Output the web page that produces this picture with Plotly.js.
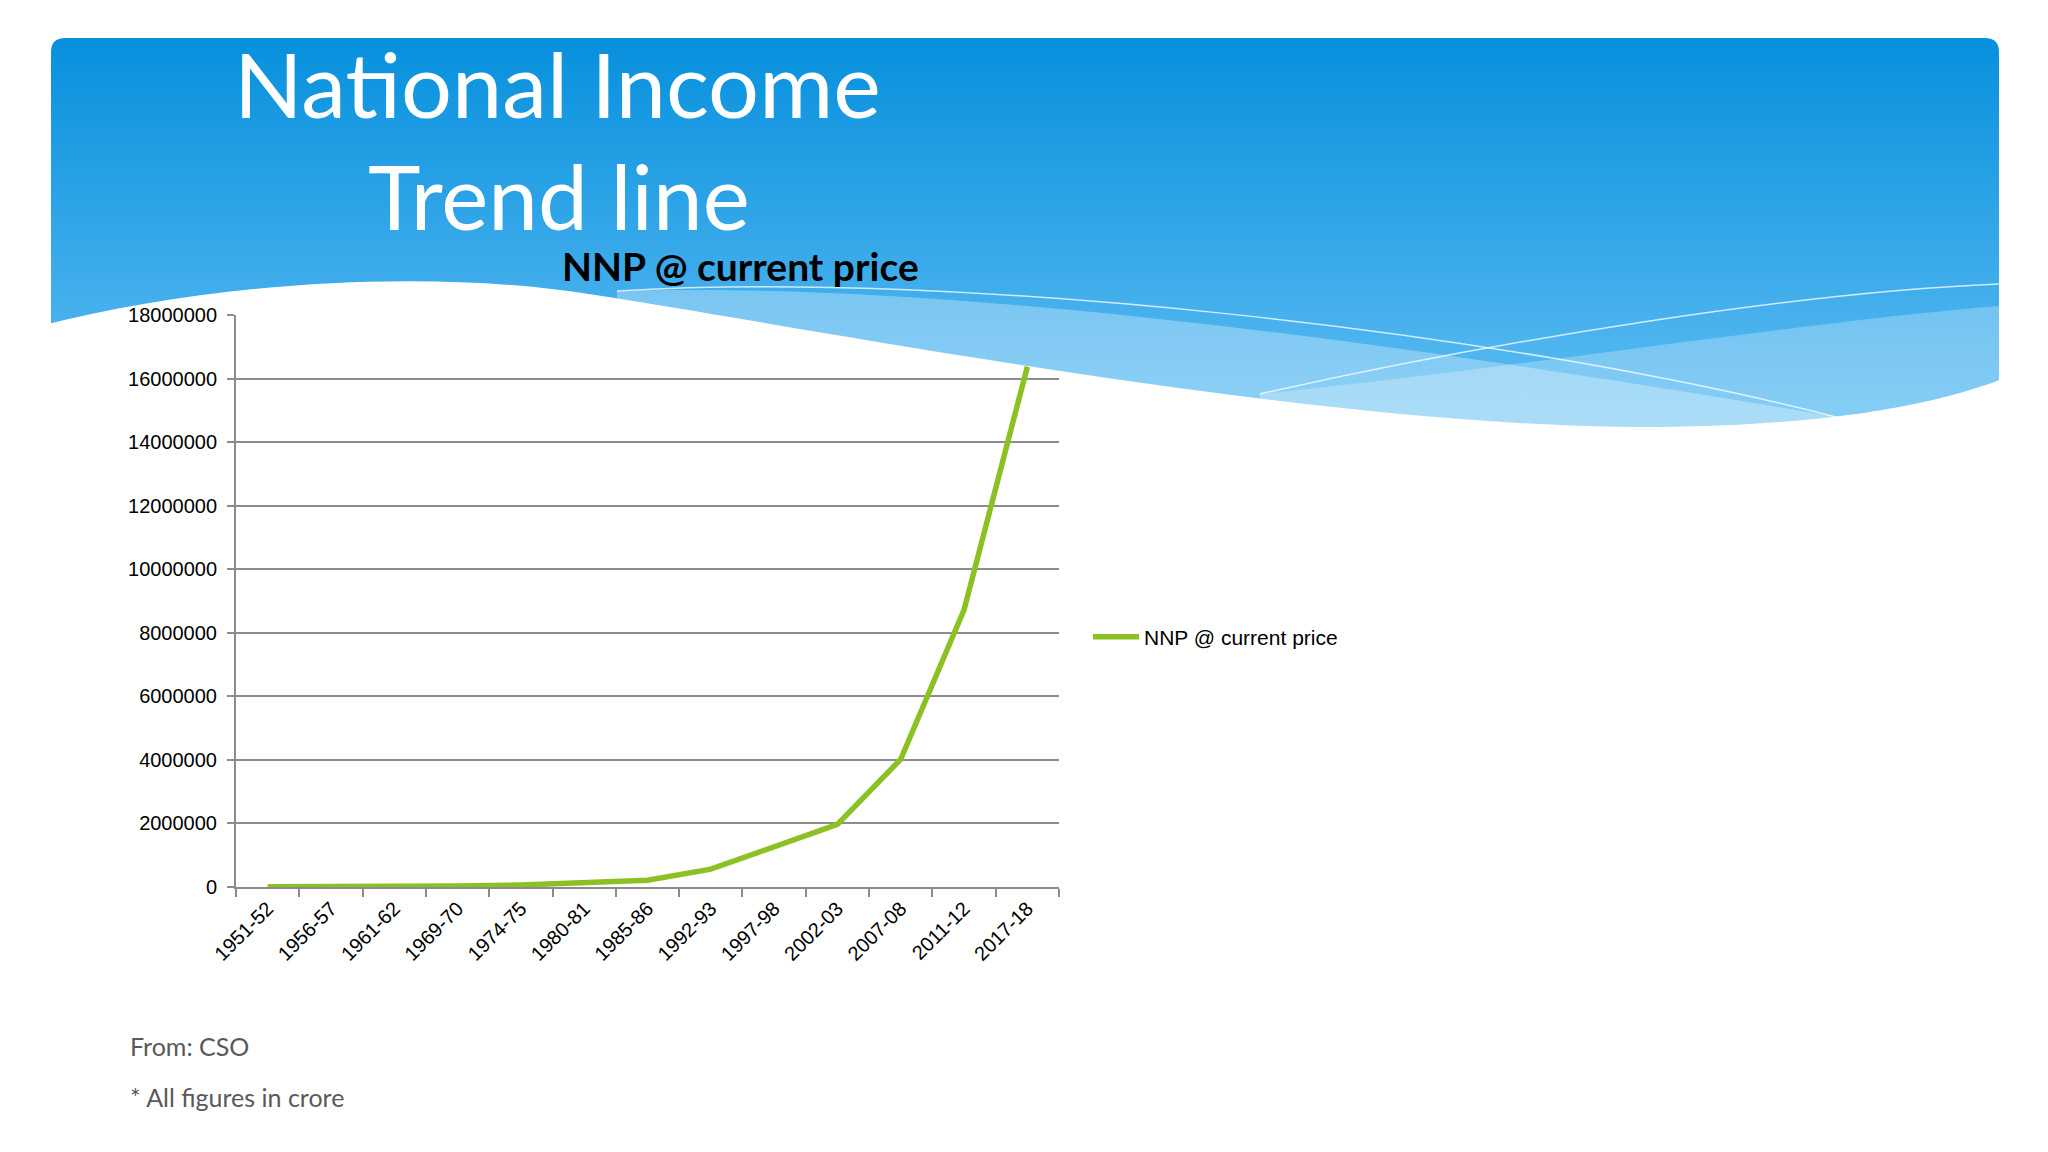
<!DOCTYPE html>
<html>
<head>
<meta charset="utf-8">
<script src="https://cdn.plot.ly/plotly-3.0.1.min.js"></script>
<style>
  html, body { margin: 0; padding: 0; background: #ffffff; }
  #chart { width: 2048px; height: 1152px; }
</style>
</head>
<body>
<div id="chart"></div>
<script>
// ---- Data ----
const categories = ['1951-52','1956-57','1961-62','1969-70','1974-75','1980-81','1985-86','1992-93','1997-98','2002-03','2007-08','2011-12','2017-18'];
const nnpValues = [9800, 11900, 15300, 35000, 64000, 120000, 210000, 560000, 1250000, 1970000, 4020000, 8720000, 16370000];
const seriesName = 'NNP @ current price';
const yTicks = [0, 2000000, 4000000, 6000000, 8000000, 10000000, 12000000, 14000000, 16000000, 18000000];
const slideTitle1 = 'National Income';
const slideTitle2 = 'Trend line';
const chartTitle = 'NNP @ current price';
const note1 = 'From: CSO';
const note2 = '* All figures in crore';

// ---- Geometry (pixels) ----
const W = 2048, H = 1152;
const M = { l: 236, r: 989, t: 315, b: 265 };
const PW = W - M.l - M.r, PH = H - M.t - M.b;
const px2x = p => (p - M.l) / PW;
const px2y = p => (H - M.b - p) / PH;

// ---- Banner background (SVG) ----
const svg = `<svg xmlns="http://www.w3.org/2000/svg" width="${W}" height="${H}" viewBox="0 0 ${W} ${H}">
<defs>
<linearGradient id="g" x1="0" y1="38" x2="0" y2="440" gradientUnits="userSpaceOnUse">
<stop offset="0" stop-color="#0790dd"/>
<stop offset="0.6" stop-color="#3eaceb"/>
<stop offset="1" stop-color="#62c0f3"/>
</linearGradient>
</defs>
<path d="M51,52 Q51,38 65,38 L1985,38 Q1999,38 1999,52 L1999,450 L51,450 Z" fill="url(#g)"/>
<path d="M617,291 C919,282 1313,328 1838,417 L1838,460 L617,460 Z" fill="#ffffff" fill-opacity="0.3"/>
<path d="M1260,394 C1500,370 1800,322 1999,306 L1999,460 L1260,460 Z" fill="#ffffff" fill-opacity="0.25"/>
<path d="M40,326 C200,285 400,270 560,290 C720,310 1300,430 1660,427 C1850,425 1950,400 2010,376 L2010,470 L40,470 Z" fill="#ffffff"/>
<path d="M617,291 C950,270 1500,330 1840,418" fill="none" stroke="#ffffff" stroke-opacity="0.75" stroke-width="1.5"/>
<path d="M1260,394 C1500,340 1800,292 1999,284" fill="none" stroke="#ffffff" stroke-opacity="0.75" stroke-width="1.5"/>
</svg>`;
const bgUri = 'data:image/svg+xml;charset=utf-8,' + encodeURIComponent(svg);

const lineColor = '#8cc124';
const gridColor = '#8c8c8c';

const trace = {
  type: 'scatter',
  mode: 'lines',
  x: categories,
  y: nnpValues,
  name: seriesName,
  line: { color: lineColor, width: 5.5 },
  showlegend: true,
  hoverinfo: 'skip'
};

const tickFont = { family: '"Liberation Sans", Arial, sans-serif', size: 20, color: '#000000' };

const layout = {
  width: W, height: H,
  margin: { l: M.l, r: M.r, t: M.t, b: M.b, pad: 0 },
  paper_bgcolor: 'rgba(0,0,0,0)',
  plot_bgcolor: 'rgba(0,0,0,0)',
  showlegend: true,
  legend: {
    x: px2x(1088), y: px2y(637), xanchor: 'left', yanchor: 'middle',
    itemwidth: 46,
    bgcolor: 'rgba(0,0,0,0)',
    font: { family: '"Liberation Sans", Arial, sans-serif', size: 21, color: '#000000' }
  },
  xaxis: {
    type: 'category',
    range: [-0.5, categories.length - 0.5],
    showgrid: false, zeroline: false,
    showline: true, linecolor: gridColor, linewidth: 2,
    ticks: 'outside', ticklen: 8, tickwidth: 2, tickcolor: gridColor,
    tickson: 'boundaries',
    tickangle: -45,
    tickfont: tickFont,
    fixedrange: true
  },
  yaxis: {
    range: [0, 18000000],
    tickvals: yTicks,
    ticktext: yTicks.map(v => String(v)),
    showgrid: true, gridcolor: gridColor, gridwidth: 2,
    zeroline: false,
    showline: true, linecolor: gridColor, linewidth: 2,
    ticks: 'outside', ticklen: 7, tickwidth: 2, tickcolor: gridColor,
    ticklabelstandoff: 6,
    tickfont: tickFont,
    fixedrange: true
  },
  images: [{
    source: bgUri, xref: 'paper', yref: 'paper',
    x: px2x(0), y: px2y(0), sizex: W / PW, sizey: H / PH,
    xanchor: 'left', yanchor: 'top', sizing: 'stretch', layer: 'below'
  }],
  annotations: [
    { text: slideTitle1, xref: 'paper', yref: 'paper', x: px2x(232), y: px2y(83), xanchor: 'left', yanchor: 'middle', showarrow: false,
      font: { family: 'Lato, "Open Sans", sans-serif', size: 90, color: '#ffffff' } },
    { text: slideTitle2, xref: 'paper', yref: 'paper', x: px2x(366), y: px2y(196), xanchor: 'left', yanchor: 'middle', showarrow: false,
      font: { family: 'Lato, "Open Sans", sans-serif', size: 89, color: '#ffffff' } },
    { text: '<b>' + chartTitle + '</b>', xref: 'paper', yref: 'paper', x: px2x(740), y: px2y(266), xanchor: 'center', yanchor: 'middle', showarrow: false,
      font: { family: 'Lato, sans-serif', size: 39, color: '#000000' } },
    { text: note1, xref: 'paper', yref: 'paper', x: px2x(128), y: px2y(1046), xanchor: 'left', yanchor: 'middle', showarrow: false,
      font: { family: 'Lato, sans-serif', size: 25, color: '#595959' } },
    { text: note2, xref: 'paper', yref: 'paper', x: px2x(128), y: px2y(1097), xanchor: 'left', yanchor: 'middle', showarrow: false,
      font: { family: 'Lato, sans-serif', size: 25, color: '#595959' } }
  ]
};

Plotly.newPlot('chart', [trace], layout, { staticPlot: true, displayModeBar: false });
</script>
</body>
</html>
